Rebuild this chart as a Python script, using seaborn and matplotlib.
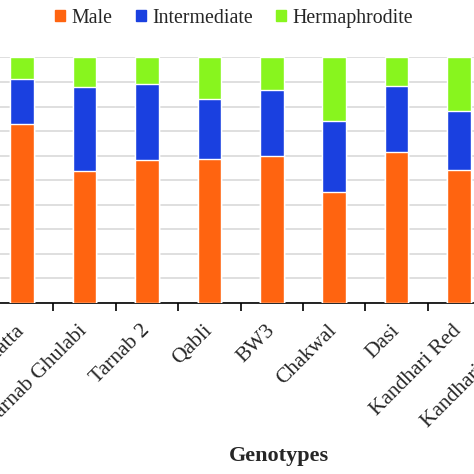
import matplotlib.pyplot as plt
import seaborn as sns
import pandas as pd
import numpy as np

genotypes = ['Khatta', 'Tarnab Ghulabi', 'Tarnab 2', 'Qabli', 'BW3',
             'Chakwal', 'Dasi', 'Kandhari Red', 'Kandhari White']
male = [72.9, 53.8, 58.1, 58.6, 60.0, 45.0, 61.6, 54.1, 55.0]
intermediate = [18.4, 34.2, 30.9, 24.3, 26.7, 29.1, 26.7, 24.0, 28.0]
hermaphrodite = [8.7, 12.0, 11.0, 17.1, 13.3, 25.9, 11.7, 21.9, 17.0]

colors = {'Male': '#FF6410', 'Intermediate': '#1A40E0', 'Hermaphrodite': '#88F51E'}

sns.set_style('white')
plt.rcParams['font.family'] = ['Liberation Serif', 'DejaVu Serif']

df = pd.DataFrame({'genotype': genotypes, 'male': male,
                   'intermediate': intermediate, 'herm': hermaphrodite})
df['mi'] = df['male'] + df['intermediate']
df['total'] = df['mi'] + df['herm']

fig = plt.figure(figsize=(4.74, 4.74), dpi=100)
ax = fig.add_axes([-0.019, 0.3608, 1.185, 0.518])

# stack by overdrawing cumulative heights
sns.barplot(data=df, x='genotype', y='total', color=colors['Hermaphrodite'],
            width=0.377, saturation=1, ax=ax, zorder=3)
sns.barplot(data=df, x='genotype', y='mi', color=colors['Intermediate'],
            width=0.377, saturation=1, ax=ax, zorder=3)
sns.barplot(data=df, x='genotype', y='male', color=colors['Male'],
            width=0.377, saturation=1, ax=ax, zorder=3)

ax.set_ylim(0, 100)
ax.set_xlim(-0.5, len(genotypes) - 0.5)
ax.set_yticks(np.arange(0, 101, 10))
ax.set_yticklabels([])
ax.tick_params(axis='y', length=0)
ax.yaxis.grid(True, color='#D9D9D9', linewidth=1.2, zorder=0)
ax.set_axisbelow(True)
for s in ['top', 'right', 'left']:
    ax.spines[s].set_visible(False)
ax.spines['bottom'].set_color('black')
ax.spines['bottom'].set_linewidth(1.2)

# tick marks between categories, labels at category centres
ax.set_xticks(np.arange(len(genotypes)))
ax.set_xticks(np.arange(len(genotypes)) - 0.5, minor=True)
ax.tick_params(axis='x', which='minor', bottom=True, length=6, width=1.2,
               direction='out', color='black')
ax.tick_params(axis='x', which='major', bottom=True, length=0, pad=18)
ax.set_xticklabels(genotypes, rotation=45, ha='right', va='center',
                   rotation_mode='anchor', fontsize=15.5)
ax.set_xlabel('Genotypes', fontsize=16, fontweight='bold')
ax.xaxis.set_label_coords((279 / 474 + 0.019) / 1.185, -0.625)
ax.xaxis.label.set_va('center')
ax.set_ylabel('')

handles = [plt.Rectangle((0, 0), 1, 1, color=colors[k]) for k in ['Male', 'Intermediate', 'Hermaphrodite']]
fig.legend(handles, ['Male', 'Intermediate', 'Hermaphrodite'], loc='center',
           bbox_to_anchor=(0.494, 0.962), ncol=3, frameon=False, fontsize=14.3,
           handlelength=0.5, handleheight=0.5, handletextpad=0.3, columnspacing=1.2)

plt.savefig('out.png', dpi=100)
